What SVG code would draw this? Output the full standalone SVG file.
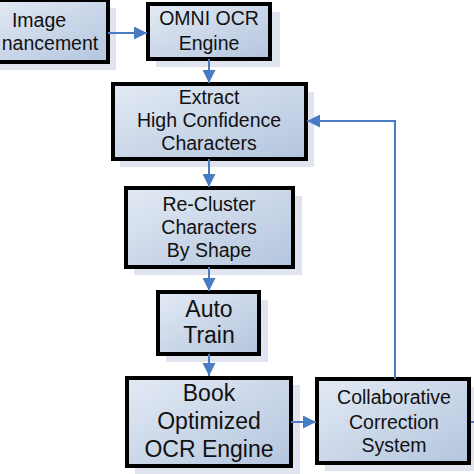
<svg xmlns="http://www.w3.org/2000/svg" width="474" height="474" viewBox="0 0 474 474">
<defs>
<linearGradient id="g" x1="0" y1="0" x2="1" y2="1">
<stop offset="0" stop-color="#e3eaf4"/>
<stop offset="1" stop-color="#b3c5de"/>
</linearGradient>
<marker id="a" viewBox="0 0 10 10" refX="10" refY="5" markerWidth="13" markerHeight="13" orient="auto" markerUnits="userSpaceOnUse">
<path d="M0,0 L10,5 L0,10 z" fill="#4a7cc4"/>
</marker>
</defs>
<style>
.sh{fill:#dfe4ee}
.bx{fill:url(#g);stroke:#000;stroke-width:4}
.t{font-family:"Liberation Sans",Arial,sans-serif;fill:#111;text-anchor:middle;font-size:19.5px}
.b{font-size:23px}
.c{fill:none;stroke:#4a7cc4;stroke-width:2}
</style>
<rect width="474" height="474" fill="#fff"/>
<g id="n1">
<rect class="sh" x="-10" y="8" width="126" height="62"/>
<rect class="bx" x="-12" y="0" width="120" height="62"/>
<text class="t" x="39" y="27">Image</text>
<text class="t" x="50" y="50">nancement</text>
</g>
<g id="n2">
<rect class="sh" x="156" y="12" width="124" height="55"/>
<rect class="bx" x="148" y="4" width="122" height="55"/>
<text class="t" x="209" y="25">OMNI OCR</text>
<text class="t" x="209" y="50">Engine</text>
</g>
<g id="n3">
<rect class="sh" x="120" y="92" width="194" height="75"/>
<rect class="bx" x="113" y="84" width="193" height="75"/>
<text class="t" x="209" y="104">Extract</text>
<text class="t" x="209" y="127">High Confidence</text>
<text class="t" x="209" y="150">Characters</text>
</g>
<g id="n4">
<rect class="sh" x="134" y="196" width="168" height="79"/>
<rect class="bx" x="126" y="188" width="167" height="79"/>
<text class="t" x="209" y="211">Re-Cluster</text>
<text class="t" x="209" y="234">Characters</text>
<text class="t" x="209" y="257">By Shape</text>
</g>
<g id="n5">
<rect class="sh" x="166" y="300" width="102" height="62"/>
<rect class="bx" x="158" y="292" width="101" height="62"/>
<text class="t b" x="209" y="317">Auto</text>
<text class="t b" x="209" y="343">Train</text>
</g>
<g id="n6">
<rect class="sh" x="135" y="385" width="165" height="89"/>
<rect class="bx" x="127" y="378" width="164" height="88"/>
<text class="t b" x="209" y="401">Book</text>
<text class="t b" x="209" y="429">Optimized</text>
<text class="t b" x="209" y="457">OCR Engine</text>
</g>
<g id="n7">
<rect class="sh" x="325" y="387" width="149" height="84"/>
<rect class="bx" x="317" y="379" width="152" height="84"/>
<text class="t" x="394" y="404">Collaborative</text>
<text class="t" x="394" y="429">Correction</text>
<text class="t" x="394" y="452">System</text>
</g>
<g id="connectors">
<path class="c" d="M108,33 H147" marker-end="url(#a)"/>
<path class="c" d="M209,59 V83" marker-end="url(#a)"/>
<path class="c" d="M209,159 V187" marker-end="url(#a)"/>
<path class="c" d="M209,267 V291" marker-end="url(#a)"/>
<path class="c" d="M209,354 V376" marker-end="url(#a)"/>
<path class="c" d="M291,422 H316" marker-end="url(#a)"/>
<path class="c" d="M395,379 V121 H307" marker-end="url(#a)"/>
<path class="c" d="M471,422 H474"/>
</g>
</svg>
